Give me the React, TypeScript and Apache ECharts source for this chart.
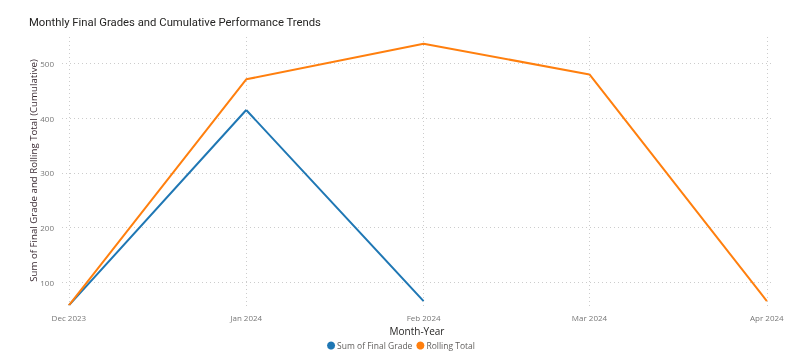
import React, { useEffect, useRef } from "react";
import * as echarts from "echarts";

const months = ["2023-12-01", "2024-01-01", "2024-02-01", "2024-03-01", "2024-04-01"];
const finalGrade = [58, 415, 66];
const rollingTotal = [58, 471, 536, 480, 66];
const monthNames = ["Jan", "Feb", "Mar", "Apr", "May", "Jun", "Jul", "Aug", "Sep", "Oct", "Nov", "Dec"];

const DAY = 86400000;

export default function App() {
  const ref = useRef<HTMLDivElement>(null);
  useEffect(() => {
    if (!ref.current) return;
    const chart = echarts.init(ref.current, null, { renderer: "svg" });
    const ts = months.map((m) => new Date(m + "T00:00:00Z").getTime());
    const font = "'Open Sans', 'Noto Sans', sans-serif";
    const gridLine = { type: [1, 3], color: "#cccccc", width: 1 };
    chart.setOption({
      animation: false,
      title: {
        text: "Monthly Final Grades and Cumulative Performance Trends",
        left: 24,
        top: 12,
        textStyle: { fontFamily: "Roboto, sans-serif", fontSize: 11.3, fontWeight: "normal", color: "#252423" },
      },
      legend: {
        bottom: 5,
        left: "center",
        icon: "circle",
        itemWidth: 8,
        itemHeight: 8,
        itemGap: 4,
        textStyle: { fontFamily: font, fontSize: 8.5, color: "#605E5C", padding: [0, 0, 0, -3] },
        data: ["Sum of Final Grade", "Rolling Total"],
      },
      grid: { left: 62, right: 30, top: 35, bottom: 54, containLabel: false },
      xAxis: {
        type: "value",
        min: ts[0] - 1.2 * DAY,
        max: ts[4] + 0.9 * DAY,
        name: "Month-Year",
        nameLocation: "middle",
        nameGap: 20,
        nameMoveOverlap: false,
        nameTextStyle: { fontFamily: font, fontSize: 10, color: "#252423" },
        axisLine: { show: false },
        axisTick: { show: false, customValues: ts },
        axisLabel: {
          fontFamily: font,
          fontSize: 8,
          color: "#777777",
          margin: 7,
          customValues: ts,
          formatter: (v: number) => {
            const d = new Date(v);
            return monthNames[d.getUTCMonth()] + " " + d.getUTCFullYear();
          },
        },
        splitLine: { show: false },
      },
      yAxis: {
        type: "value",
        min: 57,
        max: 552,
        name: "Sum of Final Grade and Rolling Total (Cumulative)",
        nameLocation: "middle",
        nameGap: 24,
        nameMoveOverlap: false,
        nameTextStyle: { fontFamily: font, fontSize: 9.7, color: "#3a2a33" },
        axisLine: { show: false },
        axisTick: { show: false },
        axisLabel: {
          fontFamily: font,
          fontSize: 8,
          color: "#777777",
          margin: 8,
          showMinLabel: false,
          showMaxLabel: false,
        },
        splitLine: {
          show: true,
          showMinLine: false,
          showMaxLine: false,
          lineStyle: gridLine,
        },
      },
      series: [
        {
          name: "Sum of Final Grade",
          type: "line",
          data: finalGrade.map((v, i) => [ts[i], v]),
          showSymbol: false,
          symbol: "circle",
          lineStyle: { width: 2, color: "#1F77B4" },
          itemStyle: { color: "#1F77B4" },
          markLine: {
            silent: true,
            symbol: "none",
            label: { show: false },
            lineStyle: gridLine,
            data: ts.map((t) => ({ xAxis: t })),
          },
        },
        {
          name: "Rolling Total",
          type: "line",
          data: rollingTotal.map((v, i) => [ts[i], v]),
          showSymbol: false,
          symbol: "circle",
          lineStyle: { width: 2, color: "#FF7F0E" },
          itemStyle: { color: "#FF7F0E" },
        },
      ],
    });
    return () => chart.dispose();
  }, []);
  return (
    <div
      ref={ref}
      style={{ position: "fixed", left: 0, top: 0, width: 802, height: 360 }}
    />
  );
}
